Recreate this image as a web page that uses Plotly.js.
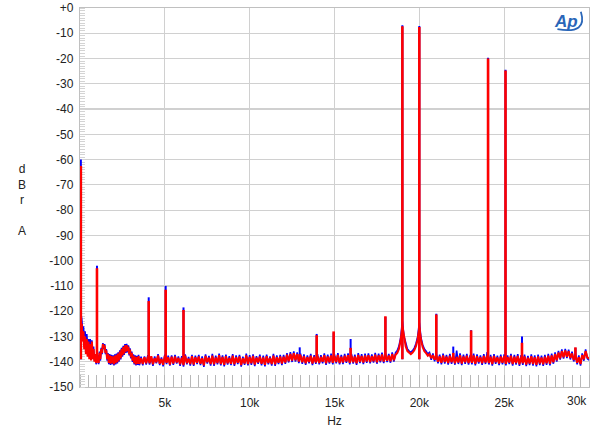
<!DOCTYPE html>
<html>
<head>
<meta charset="utf-8">
<script src="https://cdn.plot.ly/plotly-3.0.1.min.js"></script>
<style>html,body{margin:0;padding:0;background:#fff;}#chart{width:600px;height:429px;}</style>
</head>
<body>
<div id="chart"></div>
<script>
// Noise floor, low range: frequency (kHz) and levels (dBr A)
var freqLow = [0,0.05,0.1,0.15,0.2,0.25,0.3,0.35,0.4,0.45,0.5,0.55,0.6,0.65,0.7,0.75,0.8,0.85,0.9,0.95,
 1.05,1.1,1.15,1.2,1.25,1.3,1.35,1.4,1.45,1.5, 1.55,1.6,1.65,1.7,1.75,1.8,1.85,1.9,1.95,2.0,
 2.05,2.1,2.15,2.2,2.25,2.3,2.35,2.4,2.45,2.5, 2.55,2.6,2.65,2.7,2.75,2.8,2.85,2.9,2.95,3.0,
 3.05,3.1,3.15,3.2,3.25,3.3,3.35,3.4,3.45,3.5];
var redLow = [-121,-127,-125,-132,-128,-135,-130,-137,-131,-138,-132,-139,-133,-139.5,-132,-139,-135,-140,-137,-140.5,
 -138,-140.5,-136.5,-139,-135,-136.5,-133,-134.5,-133.5,-136.5,
 -135.5,-139,-137,-140.5,-137.5,-140.8,-137.8,-140.5,-138,-141,
 -137.6,-140.6,-137.3,-140.2,-136.8,-139.5,-136,-138.6,-135,-137.5,
 -134.2,-136.8,-133.5,-136,-133.4,-135.8,-134,-137,-135.2,-138.2,
 -136.5,-139.6,-137.6,-140.6,-138,-141,-138.2,-140.8,-137.8,-140.9];
var blueLow = [-119,-121,-123,-127,-126,-130,-128,-133,-129,-134,-131,-136,-131,-137,-131.5,-138,-134,-139.5,-137,-141,
 -137.5,-141,-136,-139.6,-134.5,-137,-132.6,-135,-133,-137,
 -135,-139.6,-136.6,-141,-137,-141.3,-137.3,-141,-137.5,-141.5,
 -137.1,-141.1,-136.8,-140.7,-136.3,-140,-135.5,-139.1,-134.5,-138,
 -133.7,-137.3,-133,-136.5,-132.9,-136.3,-133.5,-137.5,-134.7,-138.7,
 -136,-140.1,-137.1,-141.1,-137.5,-141.5,-137.7,-141.3,-137.3,-141.4];

// Noise floor, 3.6 kHz to 30 kHz (kHz)
var freqHigh = [3.6,3.7,3.8,3.9,
 4.0,4.1,4.2,4.3,4.4,4.5,4.6,4.7,4.8,4.9, 5.0,5.1,5.2,5.3,5.4,5.5,5.6,5.7,5.8,5.9,
 6.0,6.1,6.2,6.3,6.4,6.5,6.6,6.7,6.8,6.9, 7.0,7.1,7.2,7.3,7.4,7.5,7.6,7.7,7.8,7.9,
 8.0,8.1,8.2,8.3,8.4,8.5,8.6,8.7,8.8,8.9, 9.0,9.1,9.2,9.3,9.4,9.5,9.6,9.7,9.8,9.9,
 10.0,10.1,10.2,10.3,10.4,10.5,10.6,10.7,10.8,10.9, 11.0,11.1,11.2,11.3,11.4,11.5,11.6,11.7,11.8,11.9,
 12.0,12.1,12.2,12.3,12.4,12.5,12.6,12.7,12.8,12.9, 13.0,13.1,13.2,13.3,13.4,13.5,13.6,13.7,13.8,13.9,
 14.0,14.1,14.2,14.3,14.4,14.5,14.6,14.7,14.8,14.9, 15.0,15.1,15.2,15.3,15.4,15.5,15.6,15.7,15.8,15.9,
 16.0,16.1,16.2,16.3,16.4,16.5,16.6,16.7,16.8,16.9, 17.0,17.1,17.2,17.3,17.4,17.5,17.6,17.7,17.8,17.9,
 18.0,18.1,18.2,18.3,18.4,18.5,18.6,18.7,18.8,18.9, 19.0,19.1,19.2,19.3,19.4,19.5,19.6,19.7,19.8,19.9,
 20.0,20.1,20.2,20.3,20.4,20.5,20.6,20.7,20.8,20.9, 21.0,21.1,21.2,21.3,21.4,21.5,21.6,21.7,21.8,21.9,
 22.0,22.1,22.2,22.3,22.4,22.5,22.6,22.7,22.8,22.9, 23.0,23.1,23.2,23.3,23.4,23.5,23.6,23.7,23.8,23.9,
 24.0,24.1,24.2,24.3,24.4,24.5,24.6,24.7,24.8,24.9, 25.0,25.1,25.2,25.3,25.4,25.5,25.6,25.7,25.8,25.9,
 26.0,26.1,26.2,26.3,26.4,26.5,26.6,26.7,26.8,26.9, 27.0,27.1,27.2,27.3,27.4,27.5,27.6,27.7,27.8,27.9,
 28.0,28.1,28.2,28.3,28.4,28.5,28.6,28.7,28.8,28.9, 29.0,29.1,29.2,29.3,29.4,29.5,29.6,29.7,29.8,29.9,
 30.0];
var redHigh = [-138.6,-140.9,-138.2,-140.6,
 -138.0,-140.6,-137.8,-141.0,-138.6,-140.2,-137.5,-140.8,-138.9,-141.2,
 -137.7,-140.4,-138.3,-141.1,-138.0,-140.7,-137.9,-140.3,-138.5,-141.0,
 -138.4,-141.3,-137.6,-140.5,-138.8,-140.9,-137.8,-141.1,-138.2,-140.4,
 -137.9,-140.8,-138.6,-141.4,-137.7,-140.2,-138.4,-140.9,-137.6,-141.0,
 -138.3,-140.5,-137.4,-140.9,-138.1,-141.2,-137.8,-140.6,-138.5,-140.8,
 -137.6,-141.0,-138.2,-140.4,-137.9,-141.3,-138.6,-140.7,-137.5,-140.9,
 -138.1,-140.6,-137.7,-141.1,-138.4,-140.3,-137.9,-140.8,-138.3,-141.2,
 -137.8,-140.5,-138.5,-140.9,-137.6,-141.0,-138.2,-140.4,-137.9,-140.7,
 -138.0,-140.3,-137.2,-139.8,-136.9,-139.5,-136.6,-139.4,-137.0,-139.9,
 -137.5,-140.2,-137.8,-140.6,-138.2,-140.1,-137.6,-140.7,-138.0,-140.3,
 -137.7,-140.5,-138.1,-140.0,-137.4,-140.6,-137.9,-140.2,-137.5,-140.4,
 -137.8,-140.1,-137.3,-140.5,-138.0,-140.3,-137.6,-139.9,-137.4,-140.4,
 -137.6,-140.2,-137.9,-140.6,-137.3,-140.0,-137.7,-140.3,-137.5,-139.9,
 -137.4,-140.1,-137.8,-139.8,-137.2,-140.2,-137.5,-139.7,-137.1,-139.9,
 -137.3,-139.6,-137.6,-139.8,-137.0,-139.4,-137.2,-136.5,-134.8,-131.5,
 -126.0,-131.0,-134.0,-135.8,-136.6,-137.0,-136.4,-135.5,-133.8,-131.2,
 -126.5,-131.5,-134.2,-135.8,-136.6,-137.6,-137.0,-138.6,-137.4,-139.2,
 -137.6,-140.0,-137.9,-140.4,-137.5,-140.1,-138.0,-140.5,-137.6,-140.2,
 -137.8,-140.6,-138.1,-140.3,-137.4,-140.7,-137.9,-140.2,-137.6,-140.5,
 -138.0,-140.4,-137.5,-140.8,-137.8,-140.1,-138.2,-140.6,-137.7,-140.3,
 -137.6,-140.5,-138.0,-140.9,-137.7,-140.2,-138.3,-140.7,-137.9,-140.4,
 -137.8,-140.8,-138.2,-140.3,-137.6,-140.9,-138.0,-140.5,-137.7,-141.0,
 -138.1,-140.6,-137.9,-141.1,-138.4,-140.7,-137.8,-140.9,-138.2,-141.2,
 -137.9,-140.7,-138.3,-141.0,-138.0,-140.6,-137.6,-140.8,-137.5,-140.2,
 -137.0,-139.4,-136.4,-138.6,-135.8,-138.2,-135.6,-138.0,-135.9,-138.5,
 -136.7,-139.3,-137.5,-140.4,-138.2,-140.9,-137.4,-139.0,-135.8,-138.2,
 -138.8];
var blueHigh = [-138.0,-141.4,-137.9,-141.1,
 -137.4,-141.1,-138.2,-141.6,-137.9,-140.6,-137.0,-141.3,-138.3,-141.8,
 -137.2,-140.9,-137.6,-141.5,-137.5,-141.2,-137.3,-140.7,-137.9,-141.6,
 -137.8,-141.9,-137.1,-141.0,-138.1,-141.5,-137.3,-141.6,-137.6,-140.9,
 -137.3,-141.3,-137.9,-142.0,-137.1,-140.7,-137.7,-141.5,-136.9,-141.6,
 -137.6,-141.0,-136.8,-141.4,-137.5,-141.8,-137.2,-141.1,-137.8,-141.3,
 -137.0,-141.6,-137.5,-140.9,-137.3,-141.9,-138.0,-141.2,-136.8,-141.4,
 -137.4,-141.2,-137.1,-141.7,-137.8,-140.8,-137.2,-141.4,-137.6,-141.8,
 -137.2,-141.0,-137.9,-141.5,-136.9,-141.6,-137.5,-140.9,-137.3,-141.3,
 -137.3,-140.8,-136.6,-140.3,-136.2,-140.1,-135.9,-140.0,-136.3,-140.5,
 -136.8,-140.8,-137.1,-141.2,-137.5,-140.6,-136.9,-141.3,-137.4,-140.8,
 -137.0,-141.0,-137.4,-140.6,-136.7,-141.2,-137.2,-140.7,-136.8,-141.0,
 -137.1,-140.6,-136.6,-141.0,-137.3,-140.9,-136.9,-140.4,-136.7,-141.0,
 -136.9,-140.7,-137.2,-141.2,-136.6,-140.5,-137.0,-140.9,-136.8,-140.4,
 -136.7,-140.6,-137.1,-140.3,-136.5,-140.8,-136.8,-140.2,-136.4,-140.5,
 -136.6,-140.1,-136.9,-140.4,-136.3,-139.9,-136.4,-135.6,-133.8,-130.5,
 -124.0,-130.0,-133.2,-135.0,-135.8,-136.3,-135.6,-134.6,-132.9,-130.2,
 -124.5,-130.6,-133.4,-135.0,-135.8,-136.9,-136.3,-139.2,-136.7,-139.8,
 -136.9,-140.6,-137.2,-141.0,-136.8,-140.7,-137.3,-141.1,-136.9,-140.8,
 -137.1,-141.2,-135.6,-140.9,-136.7,-141.3,-137.2,-140.8,-136.9,-141.1,
 -137.3,-141.0,-136.8,-141.4,-137.1,-140.7,-137.5,-141.2,-137.0,-140.9,
 -136.2,-141.1,-137.3,-141.5,-137.0,-140.8,-137.6,-141.3,-137.2,-141.0,
 -137.1,-141.4,-137.5,-140.9,-136.9,-141.5,-137.3,-141.1,-137.0,-141.6,
 -137.4,-141.2,-137.2,-141.7,-137.7,-141.3,-137.1,-141.5,-137.5,-141.8,
 -137.2,-141.3,-137.6,-141.6,-137.3,-141.2,-136.9,-141.4,-136.8,-140.8,
 -136.3,-140.0,-135.7,-139.2,-135.1,-138.8,-134.9,-138.6,-135.2,-139.1,
 -136.0,-139.9,-136.8,-141.0,-137.5,-141.5,-136.7,-139.6,-135.1,-138.8,
 -139.4];

// Discrete tones (kHz) and their peak levels (dBr A)
var spikeFreq = [0.05,1.0,4.05,5.05,6.1,12.95,13.95,14.95,15.95,18.0,19.0,20.0,21.0,22.0,23.05,24.05,25.08,26.05,29.2];
var bluePeak  = [-60,-102,-114.5,-110,-118.5,-134.3,-129,-128.5,-131,-122.3,-6.8,-7.1,-121,-134,-127.5,-19.7,-24.4,-130,-134.5];
var redPeak   = [-62.5,-103,-116,-111.5,-119.5,-137,-129.5,-128,-134.5,-122,-7.2,-7.5,-121.3,-136.5,-127.6,-20,-24.7,-132.5,-134.3];
var spikeBase = -139;

var yTickVals = [0,-10,-20,-30,-40,-50,-60,-70,-80,-90,-100,-110,-120,-130,-140,-150];
var yTickText = ['+0','-10','-20','-30','-40','-50','-60','-70','-80','-90','-100','-110','-120','-130','-140','-150'];
var xTickVals = [5,10,15,20,25,30];
var xTickText = ['5k','10k','15k','20k','25k','30k'];

function spikes(peaks){
  var x=[], y=[];
  for (var i=0;i<spikeFreq.length;i++){
    x.push(spikeFreq[i], spikeFreq[i], null);
    y.push(spikeBase, peaks[i], null);
  }
  return {x:x, y:y};
}
var bs = spikes(bluePeak), rs = spikes(redPeak);
var freq = freqLow.concat(freqHigh);
var BLUE = '#0000ff', RED = '#ff0000';

var traces = [
  {x:freq, y:blueLow.concat(blueHigh), mode:'lines', line:{color:BLUE, width:1.6}, hoverinfo:'skip'},
  {x:bs.x, y:bs.y, mode:'lines', line:{color:BLUE, width:2}, connectgaps:false, hoverinfo:'skip'},
  {x:freq, y:redLow.concat(redHigh), mode:'lines', line:{color:RED, width:2.1}, hoverinfo:'skip'},
  {x:rs.x, y:rs.y, mode:'lines', line:{color:RED, width:2.6}, connectgaps:false, hoverinfo:'skip'}
];

// last x label is right-aligned at the plot edge, like the original
var nLab = xTickVals.length - 1;
var gridC = '#d0d0d0', frameC = '#c0c0c0', tickC = '#b8b8b8';
var layout = {
  width:600, height:429,
  margin:{l:80, r:11, t:8, b:42},
  paper_bgcolor:'#fff', plot_bgcolor:'#fff',
  showlegend:false,
  font:{family:'Arial, Liberation Sans, sans-serif', size:12, color:'#222'},
  xaxis:{
    range:[0,30], tickmode:'array', tickvals:xTickVals.slice(0,nLab), ticktext:xTickText.slice(0,nLab),
    showgrid:true, gridcolor:gridC, gridwidth:1.2, zeroline:false,
    showline:true, mirror:true, linecolor:frameC, linewidth:1.2, layer:'below traces',
    ticks:'', ticklabelstandoff:4,
    minor:{tickmode:'linear', tick0:0, dtick:0.5, ticks:'inside', ticklen:12, tickwidth:1, tickcolor:tickC, showgrid:false},
    title:{text:'Hz', font:{size:12, color:'#222'}, standoff:8}
  },
  yaxis:{
    range:[-150,0], tickmode:'array', tickvals:yTickVals, ticktext:yTickText,
    showgrid:true, gridcolor:gridC, gridwidth:1.2, zeroline:false,
    showline:true, mirror:true, linecolor:frameC, linewidth:1.2, layer:'below traces',
    ticks:'', ticklabelstandoff:3,
    minor:{tickmode:'linear', tick0:0, dtick:1, ticks:'inside', ticklen:5, tickwidth:1, tickcolor:'#d4d4d4', showgrid:false}
  },
  annotations:[
    {xref:'x', yref:'paper', x:xTickVals[nLab], y:0, text:xTickText[nLab], showarrow:false,
     font:{size:12, color:'#222'}, xanchor:'right', yanchor:'middle', yshift:-14},
    {xref:'paper', yref:'paper', x:-0.114, y:0.493, text:'d<br>B<br>r<br><br>A', showarrow:false,
     font:{size:12, color:'#222'}, align:'center', xanchor:'center', yanchor:'middle'},
    {xref:'paper', yref:'paper', x:0.955, y:0.965, text:'<b><i>Ap</i></b>', showarrow:false,
     font:{size:17, color:'#2a66b8', family:'Liberation Sans, Arial, sans-serif'}, xanchor:'center', yanchor:'middle'}
  ],
  shapes:[
    {type:'path', xref:'paper', yref:'paper',
     path:'M 0.938,0.944 Q 0.998,0.930 0.984,0.990',
     line:{color:'#2a66b8', width:1.8}}
  ]
};
Plotly.newPlot('chart', traces, layout, {displayModeBar:false, staticPlot:true});
</script>
</body>
</html>
